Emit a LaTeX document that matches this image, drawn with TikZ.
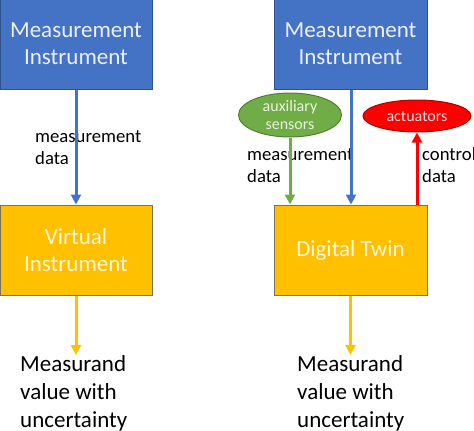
\documentclass[tikz,border=0pt]{standalone}
\usepackage{fontspec}
\setmainfont{Carlito}
\usetikzlibrary{arrows.meta,shapes.geometric}

\definecolor{instrBlue}{HTML}{4472C4}
\definecolor{instrEdge}{HTML}{2F528F}
\definecolor{twinYellow}{HTML}{FFC000}
\definecolor{twinEdge}{HTML}{7A7456}
\definecolor{sensGreen}{HTML}{70AD47}
\definecolor{sensEdge}{HTML}{507E32}
\definecolor{actRed}{HTML}{FF0000}
\definecolor{actEdge}{HTML}{B00000}

\begin{document}
\begin{tikzpicture}
[x=1pt,y=-1pt,
  boxDecorate/.style={shape=rectangle,draw,line width=1pt,inner sep=0pt,
    minimum width=152pt,minimum height=90pt,align=center,
    font=\fontsize{23}{27}\selectfont},%
  instrDecorate/.style={boxDecorate,fill=instrBlue,draw=instrEdge,text=white!90!instrBlue},%
  twinDecorate/.style={boxDecorate,fill=twinYellow,draw=twinEdge,text=white!85!twinYellow},%
  ovalDecorate/.style={shape=ellipse,draw,line width=1pt,inner sep=0pt,align=center,
    font=\fontsize{16}{18}\selectfont},%
  labelDecorate/.style={anchor=base west,align=left,inner sep=0pt,
    font=\fontsize{18.7}{22}\selectfont},%
  resultDecorate/.style={anchor=north west,align=left,inner sep=0pt,
    font=\fontsize{23}{28}\selectfont},%
  arrowDecorate/.style={-{Triangle[length=10pt,width=10pt]},line width=3pt}]
\useasboundingbox (0,0) rectangle (474,431);
%% boxes
\node (instrL) at (76,44) [instrDecorate] {Measurement\\Instrument};
\node (virtual) at (76,250) [twinDecorate] {Virtual\\Instrument};
\node (instrR) at (350.5,44) [instrDecorate,minimum width=153pt] {Measurement\\Instrument};
\node (twin) at (350.5,250) [twinDecorate,minimum width=153pt] {Digital Twin};
%% ellipses
\node (sensors) at (290,115) [ovalDecorate,fill=sensGreen,draw=sensEdge,
  text=white!85!sensGreen,minimum width=103pt,minimum height=44pt] {auxiliary\\sensors};
\node (actuators) at (417,116) [ovalDecorate,fill=actRed,draw=actEdge,
  text=white!85!actRed,minimum width=108pt,minimum height=32pt] {actuators};
%% results
\node (resultL) at (20,355) [resultDecorate] {Measurand\\value with\\uncertainty};
\node (resultR) at (297,355) [resultDecorate] {Measurand\\value with\\uncertainty};
%% labels (base = last line)
\node (dataL) at (35,164) [labelDecorate] {measurement\\data};
\node (dataR) at (247,182) [labelDecorate] {measurement\\data};
\node (control) at (422,182) [labelDecorate] {control\\data};
%% arrows
\draw[arrowDecorate,instrBlue] (instrL) -- (virtual);
\draw[arrowDecorate,instrBlue] (instrR.south -| 351,0) -- (twin.north -| 351,0);
\draw[arrowDecorate,sensGreen] (sensors.south) -- (sensors.south |- twin.north);
\draw[arrowDecorate,actRed] (twin.north -| actuators.south) -- (actuators.south);
\draw[arrowDecorate,twinYellow] (virtual.south) -- (virtual.south |- resultL.north);
\draw[arrowDecorate,twinYellow] (twin.south) -- (twin.south |- resultR.north);
\end{tikzpicture}
\end{document}
